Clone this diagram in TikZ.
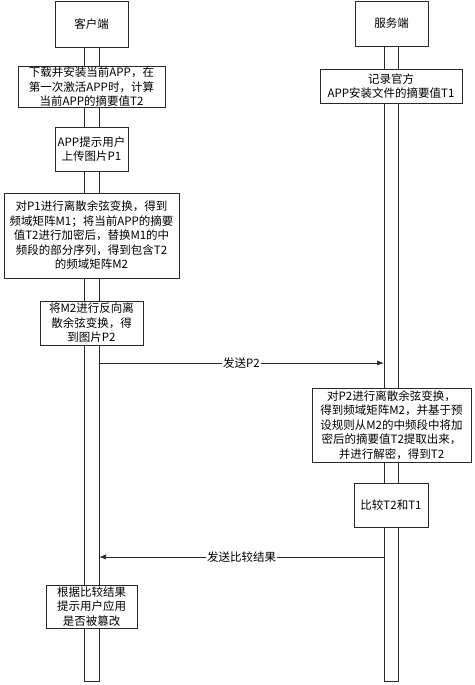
\documentclass[tikz,border=0pt]{standalone}
\usepackage{fontspec}
\usepackage{tikz}
\usetikzlibrary{arrows.meta}
\newfontfamily\cjk{Noto Sans CJK SC}
\definecolor{LineColor}{RGB}{40,40,40}

\tikzset{
    stepbox/.style={draw=LineColor, fill=white, line width=0.7pt, align=center, inner sep=1pt,
        font=\cjk\fontsize{11.5}{14.5}\selectfont},
    lifebar/.style={draw=LineColor, fill=white, line width=0.7pt},
    msg/.style={draw=LineColor, line width=0.7pt, -{Latex[length=7pt,width=5pt]}},
    msglabel/.style={fill=white, inner sep=1pt, font=\cjk\fontsize{11.5}{14}\selectfont}
}

\begin{document}
\begin{tikzpicture}[x=1pt, y=-1pt]
    \useasboundingbox (0,0) rectangle (474,685);

    % lifelines
    \draw[lifebar] (84,47) rectangle (99,681);
    \draw[lifebar] (384,46) rectangle (398,681);

    % heads
    \node[stepbox, minimum width=73pt, minimum height=46pt] (client) at (91.5,24) {客户端};
    \node[stepbox, minimum width=73pt, minimum height=45pt] (server) at (391.5,23.5) {服务端};

    % client side
    \node[stepbox, minimum width=147pt, minimum height=38pt] (install) at (91.5,87)
        {下载并安装当前APP，在\\第一次激活APP时，计算\\当前APP的摘要值T2};
    \node[stepbox, minimum width=73pt, minimum height=44pt] (upload) at (91.5,149)
        {APP提示用户\\上传图片P1};
    \node[stepbox, minimum width=175pt, minimum height=85pt] (embed) at (91.5,235.5)
        {对P1进行离散余弦变换，得到\\频域矩阵M1；将当前APP的摘要\\值T2进行加密后，替换M1的中\\频段的部分序列，得到包含T2\\的频域矩阵M2};
    \node[stepbox, minimum width=103pt, minimum height=44pt] (inverse) at (91.5,323)
        {将M2进行反向离\\散余弦变换，得\\到图片P2};
    \node[stepbox, minimum width=91pt, minimum height=43pt] (notify) at (91.5,606.5)
        {根据比较结果\\提示用户应用\\是否被篡改};

    % server side
    \node[stepbox, minimum width=142pt, minimum height=34pt] (record) at (391,86)
        {记录官方\\APP安装文件的摘要值T1};
    \node[stepbox, minimum width=159pt, minimum height=74pt] (extract) at (391.5,425)
        {对P2进行离散余弦变换，\\得到频域矩阵M2，并基于预\\设规则从M2的中频段中将加\\密后的摘要值T2提取出来，\\并进行解密，得到T2};
    \node[stepbox, minimum width=74pt, minimum height=44pt] (compare) at (391,505)
        {比较T2和T1};

    % messages
    \coordinate (sendC) at (99,363);
    \coordinate (sendS) at (384,363);
    \coordinate (backS) at (384,557);
    \coordinate (backC) at (99,557);
    \draw[msg] (sendC) -- (sendS) node[msglabel, midway] {发送P2};
    \draw[msg] (backS) -- (backC) node[msglabel, midway] {发送比较结果};

\end{tikzpicture}
\end{document}
